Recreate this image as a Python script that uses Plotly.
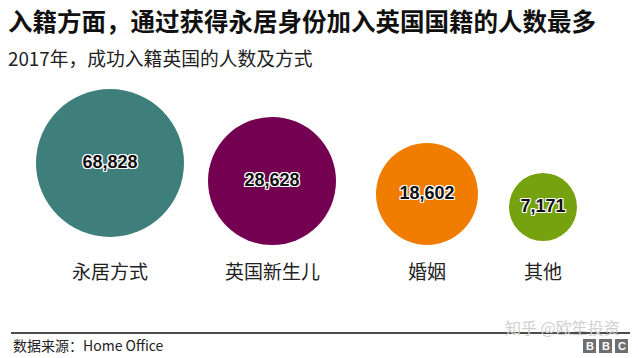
import plotly.graph_objects as go

# ---- data ----
categories = ["永居方式", "英国新生儿", "婚姻", "其他"]
values = [68828, 28628, 18602, 7171]

title = "入籍方面，通过获得永居身份加入英国国籍的人数最多"
subtitle = "2017年，成功入籍英国的人数及方式"
source = "数据来源：Home Office"
watermark = "知乎 @欧笙投资"

# ---- style ----
colors = ["#3e7f7b", "#740051", "#f07d00", "#76a20f"]
diameters = [148, 128, 102, 68]
left_edge = 36
gaps = [24, 40, 31]
bottoms = [237, 245, 245, 241]

W, H = 638, 358

# layout of bubbles (packed left to right)
cx = []
pos = left_edge
for i, d in enumerate(diameters):
    if i > 0:
        pos += gaps[i - 1]
    cx.append(pos + d / 2)
    pos += d
cy = [b - d / 2 for b, d in zip(bottoms, diameters)]

outline = "1px 1px 0 #fff, -1px -1px 0 #fff, 1px -1px 0 #fff, -1px 1px 0 #fff, 0 1px 0 #fff, 0 -1px 0 #fff, 1px 0 0 #fff, -1px 0 0 #fff"

fig = go.Figure()
fig.add_trace(go.Scatter(
    x=cx, y=cy,
    mode="markers+text",
    marker=dict(size=diameters, color=colors, opacity=1, line=dict(width=0)),
    text=[f"{v:,}" for v in values],
    textposition="middle center",
    textfont=dict(family="Arial, Liberation Sans", size=18, color="#111",
                  weight="bold", shadow=outline),
    hoverinfo="skip",
    showlegend=False,
))

annotations = []
for x, c in zip(cx, categories):
    annotations.append(dict(x=x, y=270, xref="x", yref="y", text=c, showarrow=False,
                            xanchor="center", yanchor="middle",
                            font=dict(family="Noto Sans CJK SC", size=19, color="#222")))

annotations += [
    dict(x=6, y=20, xref="x", yref="y", text=f"<b>{title}</b>", showarrow=False,
         xanchor="left", yanchor="middle",
         font=dict(family="Noto Sans CJK SC", size=24.5, color="#111")),
    dict(x=6, y=57, xref="x", yref="y", text=subtitle, showarrow=False,
         xanchor="left", yanchor="middle",
         font=dict(family="Noto Sans CJK SC", size=18.8, color="#222")),
    dict(x=11, y=345, xref="x", yref="y", text=source, showarrow=False,
         xanchor="left", yanchor="middle",
         font=dict(family="Noto Sans CJK SC", size=14, color="#222")),
    dict(x=622, y=327, xref="x", yref="y", text=watermark, showarrow=False,
         xanchor="right", yanchor="middle",
         font=dict(family="Noto Sans CJK SC", size=16, color="#d0d0d0")),
]

shapes = [dict(type="line", x0=11, x1=630, y0=333, y1=333, xref="x", yref="y",
               line=dict(color="#111", width=1.5))]

# BBC logo blocks
for i, letter in enumerate(["B", "B", "C"]):
    x0 = 583 + i * 16
    shapes.append(dict(type="rect", x0=x0, x1=x0 + 13, y0=339, y1=353, xref="x", yref="y",
                       fillcolor="#6f6f6f", line=dict(width=0)))
    annotations.append(dict(x=x0 + 6.5, y=346, xref="x", yref="y", text=f"<b>{letter}</b>",
                            showarrow=False, xanchor="center", yanchor="middle",
                            font=dict(family="Arial, Liberation Sans", size=11, color="#fff")))

fig.update_layout(
    width=W, height=H,
    margin=dict(l=0, r=0, t=0, b=0),
    paper_bgcolor="#fff", plot_bgcolor="#fff",
    xaxis=dict(range=[0, W], visible=False, fixedrange=True),
    yaxis=dict(range=[H, 0], visible=False, fixedrange=True),
    annotations=annotations,
    shapes=shapes,
)

fig.write_html("out.html")
